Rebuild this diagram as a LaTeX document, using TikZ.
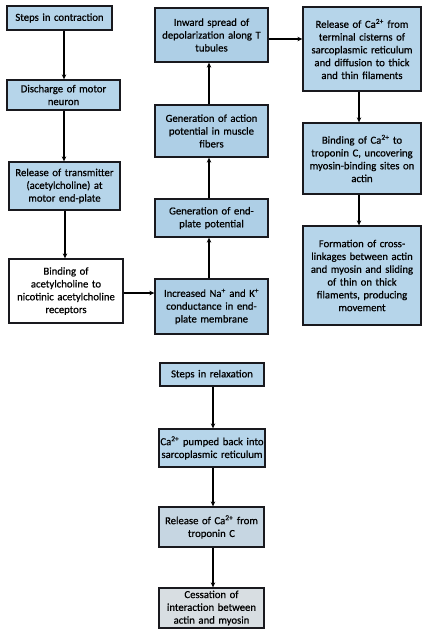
\documentclass[tikz,border=0pt]{standalone}
\usepackage{fontspec}
\setmainfont{Carlito}
\newfontfamily\boxfont{Carlito}[FakeBold=0.6]
\usetikzlibrary{arrows.meta}
\definecolor{boxblue}{RGB}{182,213,234}
\definecolor{boxblueB}{RGB}{174,207,230}
\definecolor{boxgrayblue}{RGB}{198,214,226}
\definecolor{boxgray}{RGB}{216,222,226}
\definecolor{edge}{RGB}{25,25,30}
\tikzset{
  box/.style={draw=edge, line width=1.3pt, align=center, inner sep=0pt,
    font=\boxfont\fontsize{10.7}{12.8}\selectfont, text=black},
  arr/.style={draw=black, line width=1.3pt, -{Stealth[length=5pt,width=4.5pt]}},
}
\newcommand{\sq}[1]{\textsuperscript{#1}}
\begin{document}
\begin{tikzpicture}[x=1pt,y=-1pt]
\useasboundingbox (0,0) rectangle (432,640);
\fill[white] (0,0) rectangle (432,640);
% left column
\node[box, fill=boxblue, text width=105pt, minimum height=24pt] (contr) at (59.5,18) {Steps in contraction};
\node[box, fill=boxblue, text width=113pt, minimum height=30pt] (disch) at (63.5,95) {Discharge of motor\\neuron};
\node[box, fill=boxblue, text width=111pt, minimum height=48pt] (rel) at (64.5,186) {Release of transmitter\\(acetylcholine) at\\motor end-plate};
\node[box, fill=white, text width=114pt, minimum height=64pt] (bind) at (66,291) {Binding of\\acetylcholine to\\nicotinic acetylcholine\\receptors};
% middle column
\node[box, fill=boxblueB, text width=113pt, minimum height=54pt] (inward) at (211.5,35) {Inward spread of\\depolarization along T\\tubules};
\node[box, fill=boxblueB, text width=113pt, minimum height=52pt] (genap) at (211.5,131) {Generation of action\\potential in muscle\\fibers};
\node[box, fill=boxblueB, text width=113pt, minimum height=38pt] (endp) at (211.5,218) {Generation of end-\\plate potential};
\node[box, fill=boxblueB, text width=113pt, minimum height=55pt] (incr) at (211.5,306.5) {Increased Na\sq{+} and K\sq{+}\\conductance in end-\\plate membrane};
% right column
\node[box, fill=boxblue, text width=118pt, minimum height=84pt] (relca) at (362,49) {Release of Ca\sq{2+} from\\terminal cisterns of\\sarcoplasmic reticulum\\and diffusion to thick\\and thin filaments};
\node[box, fill=boxblue, text width=118pt, minimum height=71pt] (bindca) at (362,158.5) {Binding of Ca\sq{2+} to\\troponin C, uncovering\\myosin-binding sites on\\actin};
\node[box, fill=boxblue, text width=118pt, minimum height=99pt] (form) at (362,275.5) {Formation of cross-\\linkages between actin\\and myosin and sliding\\of thin on thick\\filaments, producing\\movement};
% bottom column
\node[box, fill=boxblue, text width=104pt, minimum height=23pt] (relax) at (212,374.5) {Steps in relaxation};
\node[box, fill=boxblue, text width=106pt, minimum height=38pt] (pump) at (212,448) {Ca\sq{2+} pumped back into\\sarcoplasmic reticulum};
\node[box, fill=boxgrayblue, text width=105pt, minimum height=40pt] (trop) at (211.5,527) {Release of Ca\sq{2+} from\\troponin C};
\node[box, fill=boxgray, text width=105pt, minimum height=40pt] (cess) at (211.5,608) {Cessation of\\interaction between\\actin and myosin};
% connectors
\draw[arr] (contr.south -| 64,0) -- (disch.north -| 64,0);
\draw[arr] (disch.south -| 64,0) -- (rel.north -| 64,0);
\draw[arr] (rel.south -| 65,0) -- (bind.north -| 65,0);
\draw[arr] (bind.east |- 0,293) -- (incr.west |- 0,293);
\draw[arr] (incr.north -| 209,0) -- (endp.south -| 209,0);
\draw[arr] (endp.north -| 209,0) -- (genap.south -| 209,0);
\draw[arr] (genap.north -| 209,0) -- (inward.south -| 209,0);
\draw[arr] (inward.east |- 0,39) -- (relca.west |- 0,39);
\draw[arr] (relca.south -| 359,0) -- (bindca.north -| 359,0);
\draw[arr] (bindca.south -| 359,0) -- (form.north -| 359,0);
\draw[arr] (relax.south -| 213,0) -- (pump.north -| 213,0);
\draw[arr] (pump.south -| 213,0) -- (trop.north -| 213,0);
\draw[arr] (trop.south -| 213,0) -- (cess.north -| 213,0);
\end{tikzpicture}
\end{document}
